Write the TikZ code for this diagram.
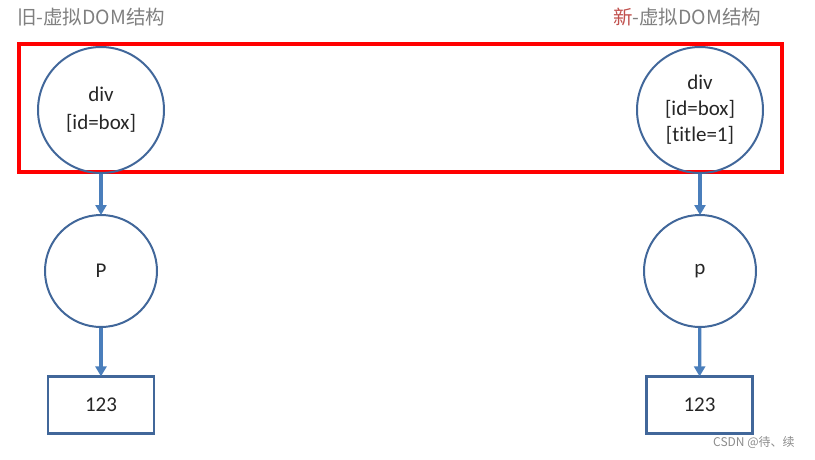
\documentclass[tikz,border=0pt]{standalone}
\usepackage{fontspec}
\setmainfont{Carlito}[Ligatures=NoCommon]
\newfontfamily\cjk{Noto Sans CJK SC}
\usetikzlibrary{arrows.meta}
\definecolor{nodeblue}{HTML}{41679A}
\definecolor{arrowblue}{HTML}{4A7EBB}
\definecolor{titlegray}{HTML}{808080}
\definecolor{newred}{HTML}{C0504D}
\tikzset{
  vnode/.style={circle,draw=nodeblue,line width=2pt,minimum size=#1,inner sep=0pt,align=center,font=\fontsize{21}{26}\selectfont,text=black!85},
  vtext/.style={rectangle,draw=nodeblue,line width=2.2pt,minimum width=106pt,minimum height=57pt,inner sep=0pt,font=\fontsize{21}{24}\selectfont,text=black!85},
  varrow/.style={draw=arrowblue,line width=3.2pt,-{Triangle[length=10pt,width=11pt]},shorten >=-1pt},
  vtitle/.style={anchor=west,inner sep=0pt,font=\cjk\fontsize{19.5}{22}\selectfont,text=titlegray},
}
\begin{document}
\begin{tikzpicture}[x=1pt,y=-1pt]
\useasboundingbox (0,0) rectangle (815,459);
\node[vtitle] (t1) at (17,17) {旧-虚拟DOM结构};
\node[vtitle] (t2) at (613,17) {\textcolor{newred}{新}-虚拟DOM结构};
\node[draw=red,line width=3.6pt,minimum width=763pt,minimum height=128pt,inner sep=0pt] (frame) at (400.5,108) {};
\node[vnode=126pt] (d1) at (101,110) {div\\[2pt]{}[id=box]};
\node[vnode=126pt] (d2) at (700,110) {div\\{}[id=box]\\{}[title=1]};
\node[vnode=112pt] (p1) at (101,271) {P};
\node[vnode=112pt] (p2) at (700,271) {p};
\node[vtext] (b1) at (101,405) {123};
\node[vtext] (b2) at (699.5,405) {123};
\draw[varrow] (d1) -- (p1);
\draw[varrow] (d2) -- (p2);
\draw[varrow] (p1) -- (b1);
\draw[varrow] (p2) -- (b2);
\node[anchor=west,inner sep=0pt,font=\cjk\fontsize{12}{14}\selectfont,text=black!45] (wm) at (713,442) {CSDN @待、续};
\end{tikzpicture}
\end{document}
